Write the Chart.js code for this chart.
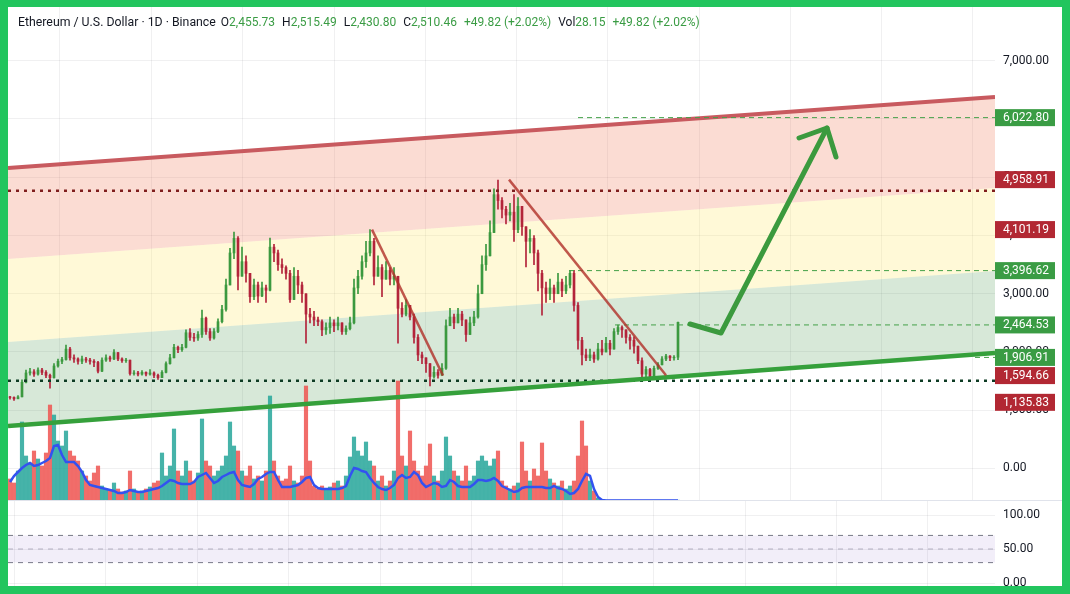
<!DOCTYPE html>
<html>
<head>
<meta charset="utf-8">
<script src="https://cdn.jsdelivr.net/npm/chart.js@4.4.1/dist/chart.umd.min.js"></script>
<style>
  html, body { margin: 0; padding: 0; background: #22c55e; }
  #frame { position: relative; width: 1070px; height: 594px; background: #22c55e; }
  #inner { position: absolute; left: 8px; top: 7px; width: 1054px; height: 579px; background: #fff; overflow: hidden; }
  #main { position: absolute; left: 0; top: 0; }
  #rsi { position: absolute; left: 0; top: 494px; }
  #sep { position: absolute; left: 0; top: 493px; width: 1054px; height: 1px; background: #e0e3eb; }
  #legend { position: absolute; left: 10px; top: 8px; font: 12px Roboto, sans-serif; color: #131722; white-space: nowrap; }
  #legend .t { font-size: 12.3px; margin-right: 5px; }
  #legend .b { margin-right: 7px; }
  #legend .v { color: #3a9c44; }
</style>
</head>
<body>
<div id="frame">
  <div id="inner">
    <canvas id="main" width="1054" height="494"></canvas>
    <div id="sep"></div>
    <canvas id="rsi" width="1054" height="85"></canvas>
    <div id="legend"><span class="t">Ethereum / U.S. Dollar · 1D · Binance</span><span class="b">O<span class="v">2,455.73</span></span><span class="b">H<span class="v">2,515.49</span></span><span class="b">L<span class="v">2,430.80</span></span><span class="b">C<span class="v">2,510.46</span></span><span class="b v">+49.82 (+2.02%)</span><span class="b">Vol<span class="v">28.15</span></span><span class="b v">+49.82 (+2.02%)</span></div>
  </div>
</div>
<script>
// bars are 4 days apart, day 0 is the first bar
const barStep = 4;
const firstOpen = 1230;

const closes = [
  1220, 1195, 1230, 1480, 1640, 1660, 1620, 1690, 1650, 1600,
  1560, 1760, 1840, 1870, 2050, 1900, 1880, 1840, 1880, 1860,
  1840, 1820, 1670, 1860, 1900, 1880, 1990, 1880, 1850, 1860,
  1630, 1640, 1620, 1650, 1620, 1640, 1600, 1560, 1650, 1800,
  1900, 2080, 2040, 2080, 2330, 2250, 2240, 2300, 2580, 2350,
  2240, 2350, 2520, 2730, 3150, 3700, 3950, 3300, 3550, 3350,
  2950, 3150, 2960, 3100, 3060, 3800, 3700, 3500, 3450, 3350,
  2900, 3300, 3150, 3000, 2650, 2600, 2550, 2520, 2380, 2420,
  2500, 2450, 2500, 2350, 2400, 2500, 3100, 3300, 3550, 3700,
  3900, 3300, 3450, 3250, 3400, 3250, 3300, 2750, 2650, 2800,
  2600, 2250, 1950, 1900, 1800, 1580, 1650, 1600, 1720, 2450,
  2600, 2500, 2650, 2550, 2300, 2500, 2600, 3000, 3500, 3650,
  4050, 4700, 4600, 4450, 4350, 4400, 4100, 4500, 4150, 3900,
  3950, 3700, 3350, 3100, 3000, 3100, 3000, 3200, 3050, 3150,
  3350, 2800, 2200, 1950, 1900, 1950, 1880, 2050, 2000, 2150,
  2050, 2350, 2420, 2380, 2250, 2200, 2100, 1850, 1620, 1700,
  1560, 1720, 1780, 1880, 1930, 1900, 1910, 2510
];
const highs = [
  1240, 1230, 1250, 1520, 1690, 1720, 1700, 1730, 1720, 1680,
  1620, 1800, 1880, 1910, 2120, 2080, 1950, 1900, 1930, 1910,
  1890, 1870, 1840, 1900, 1950, 1930, 2040, 1990, 1900, 1890,
  1860, 1680, 1670, 1680, 1660, 1700, 1660, 1620, 1680, 1830,
  1960, 2130, 2100, 2130, 2380, 2400, 2320, 2350, 2720, 2600,
  2400, 2400, 2570, 2800, 3250, 3780, 4060, 3980, 3800, 3650,
  3350, 3250, 3200, 3200, 3150, 3955, 3850, 3750, 3600, 3480,
  3400, 3450, 3400, 3200, 3000, 2750, 2700, 2600, 2550, 2500,
  2600, 2550, 2600, 2500, 2450, 2600, 3250, 3400, 3650, 3900,
  4100, 3950, 3650, 3500, 3550, 3450, 3450, 3300, 2850, 2900,
  2800, 2650, 2300, 2000, 1900, 1800, 1750, 1700, 1800, 2550,
  2750, 2650, 2750, 2700, 2550, 2600, 2700, 3150, 3650, 3850,
  4250, 4800, 4950, 4650, 4500, 4550, 4700, 4650, 4450, 4150,
  4100, 4000, 3750, 3400, 3200, 3250, 3150, 3350, 3250, 3300,
  3400, 3400, 2850, 2250, 2050, 2050, 2000, 2150, 2200, 2250,
  2200, 2400, 2460, 2450, 2380, 2300, 2260, 2100, 1900, 1750,
  1720, 1760, 1820, 1920, 1960, 1940, 1940, 2515
];
const lows = [
  1190, 1170, 1200, 1230, 1470, 1600, 1580, 1600, 1610, 1560,
  1380, 1550, 1740, 1800, 1860, 1860, 1820, 1790, 1800, 1820,
  1790, 1750, 1640, 1660, 1840, 1840, 1870, 1850, 1820, 1820,
  1600, 1600, 1590, 1600, 1590, 1600, 1560, 1530, 1560, 1640,
  1790, 1900, 1990, 2010, 2070, 2200, 2180, 2200, 2250, 2300,
  2200, 2220, 2330, 2500, 2700, 3150, 3600, 3065, 3300, 3200,
  2850, 2900, 2850, 2950, 2850, 3050, 3550, 3400, 3350, 3250,
  2850, 2900, 3000, 2850, 2150, 2500, 2450, 2450, 2280, 2300,
  2320, 2350, 2380, 2300, 2300, 2380, 2480, 3000, 3250, 3450,
  3650, 3150, 3300, 2950, 3250, 3150, 3150, 2150, 2600, 2620,
  2550, 2150, 1850, 1800, 1650, 1416, 1550, 1550, 1600, 1700,
  2450, 2400, 2500, 2450, 2180, 2300, 2450, 2580, 3000, 3400,
  3650, 4050, 4450, 4300, 4200, 4250, 3900, 4050, 4000, 3460,
  3700, 3500, 3050, 2630, 2850, 2900, 2850, 3000, 2950, 3000,
  3100, 2700, 2050, 1777, 1850, 1850, 1820, 1860, 1950, 2000,
  1950, 2050, 2300, 2250, 2150, 2050, 1980, 1800, 1520, 1560,
  1500, 1540, 1700, 1780, 1850, 1850, 1860, 1870
];
const volumes = [
  22, 18, 30, 79, 45, 38, 50, 42, 35, 48,
  96, 86, 60, 55, 70, 50, 45, 40, 30, 25,
  20, 28, 35, 15, 12, 10, 18, 12, 9, 10,
  30, 12, 8, 10, 12, 14, 18, 20, 48, 25,
  35, 72, 30, 25, 40, 30, 20, 28, 82, 40,
  35, 25, 30, 35, 45, 79, 55, 50, 30, 25,
  35, 22, 25, 20, 30, 105, 40, 25, 20, 22,
  35, 20, 18, 25, 115, 40, 15, 12, 15, 12,
  14, 18, 20, 15, 25, 44, 64, 50, 45, 59,
  40, 35, 20, 25, 15, 20, 30, 120, 45, 35,
  70, 40, 30, 25, 35, 57, 25, 20, 30, 64,
  45, 30, 25, 20, 35, 20, 25, 40, 45, 40,
  35, 42, 50, 20, 15, 12, 15, 18, 59, 30,
  20, 32, 25, 58, 30, 22, 18, 15, 20, 12,
  15, 20, 45, 80, 55, 20, 10, 3, 0.8, 0.8,
  0.8, 0.8, 0.8, 0.8, 0.8, 0.8, 0.8, 0.8, 0.8, 0.8,
  0.8, 0.8, 0.8, 0.8, 0.8, 0.8, 0.8, 0.8
];
const volumeMA = [
  19, 25, 29, 33, 36, 38, 35, 36, 38, 40,
  43, 55, 56, 46, 39, 39, 39, 35, 29, 21,
  16, 15, 14, 13, 12, 11, 10, 8, 8, 9,
  11, 10, 9, 9, 10, 11, 12, 13, 15, 18,
  21, 20, 18, 17, 17, 17, 19, 24, 26, 28,
  23, 18, 20, 24, 26, 28, 29, 21, 16, 15,
  14, 17, 22, 24, 27, 29, 29, 21, 14, 14,
  14, 15, 16, 19, 23, 24, 16, 13, 12, 12,
  12, 12, 12, 13, 15, 25, 33, 32, 30, 29,
  23, 18, 14, 12, 11, 13, 16, 23, 26, 23,
  24, 29, 26, 18, 14, 16, 18, 17, 14, 15,
  21, 19, 15, 14, 14, 14, 17, 21, 21, 20,
  21, 23, 20, 15, 13, 11, 9, 10, 13, 14,
  14, 14, 14, 14, 13, 13, 15, 13, 12, 10,
  7, 8, 12, 20, 27, 25, 12, 4, 1, 0.5,
  0.5, 0.5, 0.5, 0.5, 0.5, 0.5, 0.5, 0.5, 0.5, 0.5,
  0.5, 0.5, 0.5, 0.5, 0.5, 0.5, 0.5, 0.5
];

// axis ticks
const priceTicks = [0, 1000, 2000, 3000, 4000, 5000, 6000, 7000];
const rsiTicks = [0, 50, 100];
const gridDays = [4, 95, 187, 278, 370, 461, 552, 643, 735, 826, 917];

// drawings: [day, price] pairs
const channelTop = [[-2, 5158], [985, 6377]];
const zoneRedBottom = [[-2, 3596], [985, 4815]];
const zoneYellowBottom = [[-2, 2171], [985, 3390]];
const channelBottom = [[-2, 729], [985, 1982]];
const trendA = [[362, 4101.19], [433, 1594.66]];
const trendB = [[499, 4958.91], [656, 1600]];
const dottedRed = [[-2, 4768], [985, 4768]];
const dottedGreen = [[-2, 1507], [985, 1507]];
const dashTarget = [[568, 6022.80], [985, 6022.80]];
const dashMid = [[559, 3396.62], [985, 3396.62]];
const dashLow = [[605, 2464.53], [985, 2464.53]];
const dashSupport = [[965, 1906.91], [985, 1906.91]];
const arrowPath = [[680, 2480], [711, 2326], [817, 5845]];
const arrowHead = [[789, 5673], [817, 5845], [826, 5347]];

// price tags on the right axis
const tagValues = [6022.80, 4958.91, 4101.19, 3396.62, 2464.53, 1906.91, 1594.66, 1135.83];
const tagColors = ['#3a9c44', '#b22833', '#b22833', '#3a9c44', '#3a9c44', '#3a9c44', '#b22833', '#b22833'];

const rsiUpper = 70;
const rsiMid = 50;
const rsiLower = 30;

const upColor = '#3b993f';
const downColor = '#b3243a';
const fmt = v => v.toLocaleString('en-US', { minimumFractionDigits: 2, maximumFractionDigits: 2 });
const pts = arr => arr.map(p => ({ x: p[0], y: p[1] }));

const days = closes.map((c, i) => i * barStep);
const opens = closes.map((c, i) => i === 0 ? firstOpen : closes[i - 1]);
const isUp = closes.map((c, i) => c >= opens[i]);
const barColors = isUp.map(u => u ? upColor : downColor);
const volColors = isUp.map(u => u ? 'rgba(38,166,154,0.85)' : 'rgba(239,83,80,0.85)');

function lineSet(data, color, width, extra) {
  return Object.assign({
    type: 'line',
    data: pts(data),
    borderColor: color,
    borderWidth: width,
    pointRadius: 0,
    tension: 0,
    fill: false,
    yAxisID: 'y'
  }, extra || {});
}

const priceTags = {
  id: 'priceTags',
  afterDraw(chart) {
    const { ctx } = chart;
    const y = chart.scales.y;
    ctx.save();
    ctx.font = '12px Roboto, sans-serif';
    ctx.textBaseline = 'middle';
    tagValues.forEach((v, i) => {
      const py = y.getPixelForValue(v);
      ctx.fillStyle = tagColors[i];
      ctx.fillRect(y.left, py - 8.5, 60, 17);
      ctx.fillStyle = '#ffffff';
      ctx.fillText(fmt(v), y.left + 8, py + 0.5);
    });
    ctx.restore();
  }
};

const gridColor = 'rgba(42,46,57,0.07)';
const tickFont = { family: 'Roboto, sans-serif', size: 12 };

// keep the plot area flush with the canvas edges
const noPadY = s => { s.width = 67; s.paddingTop = 0; s.paddingBottom = 0; };
const noPadX = s => { s.height = 0; s.paddingLeft = 0; s.paddingRight = 0; };

const xAxis = {
  type: 'linear',
  min: -2,
  max: 985,
  offset: false,
  grid: { color: gridColor, drawTicks: false },
  border: { display: false },
  ticks: { display: false },
  afterBuildTicks: s => { s.ticks = gridDays.map(v => ({ value: v })); },
  afterFit: noPadX
};

new Chart(document.getElementById('main'), {
  type: 'line',
  data: {
    datasets: [
      lineSet(channelTop, '#c85a5f', 4, { fill: 1, backgroundColor: 'rgba(240,110,70,0.24)', order: 30 }),
      lineSet(zoneRedBottom, 'rgba(0,0,0,0)', 0, { fill: 2, backgroundColor: 'rgba(255,232,100,0.26)', order: 29 }),
      lineSet(zoneYellowBottom, 'rgba(0,0,0,0)', 0, { fill: 3, backgroundColor: 'rgba(56,142,60,0.2)', order: 28 }),
      lineSet(channelBottom, '#35a03b', 4.5, { order: 4 }),
      {
        type: 'bar',
        data: days.map((d, i) => ({ x: d, y: volumes[i] })),
        backgroundColor: volColors,
        barThickness: 3.5,
        grouped: false,
        yAxisID: 'yv',
        order: 20
      },
      {
        type: 'line',
        data: days.map((d, i) => ({ x: d, y: volumeMA[i] })),
        borderColor: '#3352f0',
        borderWidth: 2.5,
        pointRadius: 0,
        tension: 0,
        fill: false,
        yAxisID: 'yv',
        order: 19
      },
      {
        type: 'bar',
        data: days.map((d, i) => ({ x: d, y: [lows[i], highs[i]] })),
        backgroundColor: barColors,
        barThickness: 1,
        grouped: false,
        yAxisID: 'y',
        order: 10
      },
      {
        type: 'bar',
        data: days.map((d, i) => ({ x: d, y: [opens[i], closes[i]] })),
        backgroundColor: barColors,
        barThickness: 2,
        grouped: false,
        yAxisID: 'y',
        order: 9
      },
      lineSet(dottedRed, '#7f1d1d', 2.5, { borderDash: [3, 5], order: 6 }),
      lineSet(dottedGreen, '#0d3b23', 2.5, { borderDash: [3, 5], order: 6 }),
      lineSet(dashTarget, '#43a047', 1, { borderDash: [5, 4], order: 6 }),
      lineSet(dashMid, '#43a047', 1, { borderDash: [5, 4], order: 6 }),
      lineSet(dashLow, '#43a047', 1, { borderDash: [5, 4], order: 6 }),
      lineSet(dashSupport, '#43a047', 1, { borderDash: [5, 4], order: 6 }),
      lineSet(trendA, 'rgba(176,48,40,0.8)', 2.5, { order: 3 }),
      lineSet(trendB, 'rgba(176,48,40,0.8)', 2.5, { order: 3 }),
      lineSet(arrowPath, '#3b9a3e', 5, { borderCapStyle: 'round', borderJoinStyle: 'round', order: 1 }),
      lineSet(arrowHead, '#3b9a3e', 5, { borderCapStyle: 'round', borderJoinStyle: 'round', order: 1 })
    ]
  },
  options: {
    responsive: false,
    animation: false,
    devicePixelRatio: 1,
    layout: { padding: 0 },
    plugins: { legend: { display: false }, tooltip: { enabled: false } },
    scales: {
      x: xAxis,
      y: {
        position: 'right',
        min: -558,
        max: 7922,
        grid: { color: gridColor, drawTicks: false },
        border: { display: false },
        ticks: { padding: 8, color: '#131722', font: tickFont, callback: v => fmt(v) },
        afterBuildTicks: s => { s.ticks = priceTicks.map(v => ({ value: v })); },
        afterFit: noPadY
      },
      yv: { display: false, min: 0, max: 494 }
    }
  },
  plugins: [priceTags]
});

new Chart(document.getElementById('rsi'), {
  type: 'line',
  data: {
    datasets: [
      lineSet([[-2, rsiUpper], [985, rsiUpper]], '#787b86', 1, { borderDash: [5, 5], fill: 1, backgroundColor: 'rgba(126,87,194,0.1)' }),
      lineSet([[-2, rsiLower], [985, rsiLower]], '#787b86', 1, { borderDash: [5, 5] }),
      lineSet([[-2, rsiMid], [985, rsiMid]], 'rgba(120,123,134,0.5)', 1, { borderDash: [5, 5] })
    ]
  },
  options: {
    responsive: false,
    animation: false,
    devicePixelRatio: 1,
    layout: { padding: 0 },
    plugins: { legend: { display: false }, tooltip: { enabled: false } },
    scales: {
      x: Object.assign({}, xAxis),
      y: {
        position: 'right',
        min: -4.4,
        max: 120.6,
        grid: { color: gridColor, drawTicks: false },
        border: { display: false },
        ticks: { padding: 8, color: '#131722', font: tickFont, callback: v => fmt(v) },
        afterBuildTicks: s => { s.ticks = rsiTicks.map(v => ({ value: v })); },
        afterFit: noPadY
      }
    }
  }
});
</script>
</body>
</html>
